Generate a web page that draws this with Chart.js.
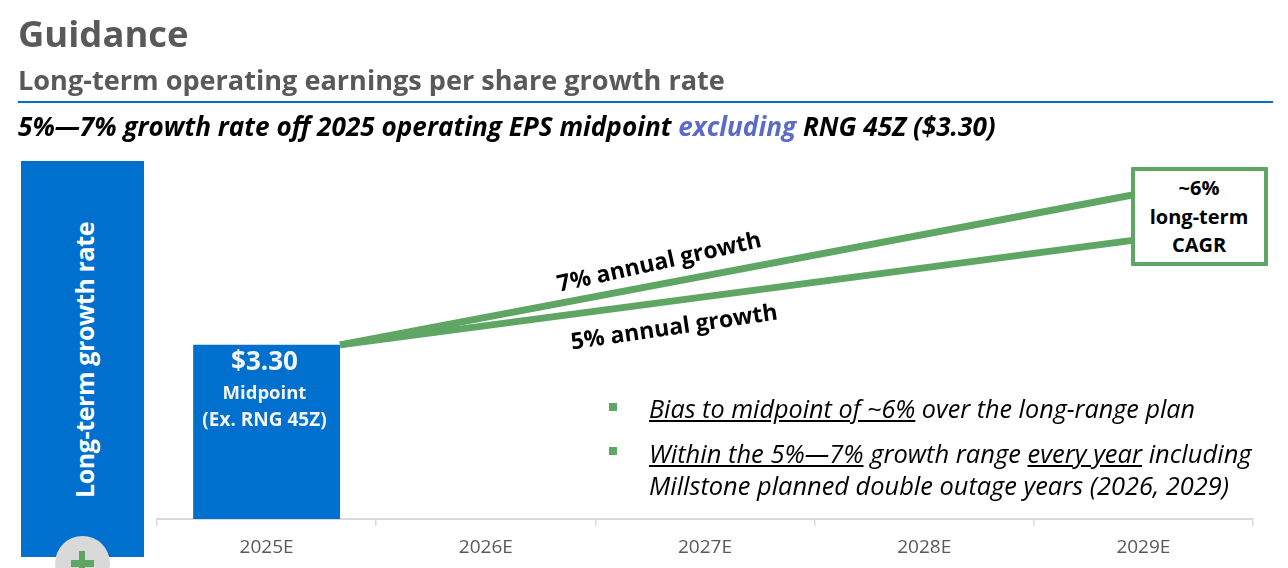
<!DOCTYPE html>
<html>
<head>
<meta charset="utf-8">
<title>Guidance</title>
<script src="https://cdn.jsdelivr.net/npm/chart.js@4"></script>
<style>
    html, body { margin: 0; padding: 0; background: #fff; }
    body { width: 1288px; height: 568px; overflow: hidden; position: relative; font-family: 'Open Sans', sans-serif; }
    canvas { position: absolute; left: 0; top: 0; }
    .txt { position: absolute; white-space: nowrap; line-height: 1; }
    #title { left: 18px; top: 15px; font-size: 36.4px; font-weight: 700; color: #595959; }
    #subtitle { left: 18px; top: 66px; font-size: 27.1px; font-weight: 700; color: #595959; }
    #rule { position: absolute; left: 18px; top: 101px; width: 1255px; height: 2px; background: #0070C0; }
    #headline { left: 18px; top: 113px; font-size: 26.15px; font-weight: 700; font-style: italic; color: #000; }
    #headline span { color: #5B6BC8; }
    #panel { position: absolute; left: 21px; top: 161px; width: 123px; height: 396px; background: #0070CE; }
    #panelText { left: 84px; top: 360px; transform: translate(-50%, -50%) rotate(-90deg); font-size: 25px; letter-spacing: -0.4px; font-weight: 700; color: #fff; }
    #circle { position: absolute; left: 55px; top: 536px; width: 55px; height: 55px; border-radius: 50%; background: #D9D9D9; }
    #plusH { position: absolute; left: 71px; top: 560px; width: 23px; height: 7px; background: #5FA564; }
    #plusV { position: absolute; left: 79px; top: 551px; width: 6px; height: 23px; background: #5FA564; }
    .barLabel { left: 264.5px; transform: translateX(-50%); color: #f4f4f4; font-weight: 700; }
    .rot { font-size: 23px; font-weight: 700; color: #000; }
    #box { position: absolute; left: 1131px; top: 167px; width: 129px; height: 91px; border: 4px solid #5FA564; background: #fff; border-radius: 1px; }
    .boxLine { left: 1199px; transform: translateX(-50%); font-size: 20px; font-weight: 700; color: #000; }
    .bullet { position: absolute; left: 609px; width: 8px; height: 8px; background: #5FA564; }
    .note { left: 649px; font-style: italic; color: #000; }
</style>
</head>
<body>
<canvas id="guidanceChart" width="1288" height="568"></canvas>

<div class="txt" id="title">Guidance</div>
<div class="txt" id="subtitle">Long-term operating earnings per share growth rate</div>
<div id="rule"></div>
<div class="txt" id="headline">5%—7% growth rate off 2025 operating EPS midpoint <span>excluding</span> RNG 45Z ($3.30)</div>

<div id="panel"></div>
<div class="txt" id="panelText">Long-term growth rate</div>
<div id="circle"></div>
<div id="plusH"></div>
<div id="plusV"></div>

<div class="txt barLabel" style="top:347px;font-size:26px;">$3.30</div>
<div class="txt barLabel" style="top:383px;font-size:18.5px;">Midpoint</div>
<div class="txt barLabel" style="top:410px;font-size:19px;">(Ex. RNG 45Z)</div>

<div class="txt rot" style="left:659px;top:261px;transform:translate(-50%,-50%) rotate(-12.5deg);">7% annual growth</div>
<div class="txt rot" style="left:674px;top:326px;transform:translate(-50%,-50%) rotate(-8.3deg);">5% annual growth</div>

<div id="box"></div>
<div class="txt boxLine" style="top:178px;">~6%</div>
<div class="txt boxLine" style="top:207px;">long-term</div>
<div class="txt boxLine" style="top:235px;">CAGR</div>

<div class="bullet" style="top:403px;"></div>
<div class="bullet" style="top:447px;"></div>
<div class="txt note" style="top:396px;font-size:25.2px;"><u>Bias to midpoint of ~6%</u> over the long-range plan</div>
<div class="txt note" style="top:441px;font-size:25.5px;"><u>Within the 5%—7%</u> growth range <u>every year</u> including</div>
<div class="txt note" style="top:473px;font-size:25.4px;">Millstone planned double outage years (2026, 2029)</div>

<script>
// Donnees
const categories = ['2025E', '2026E', '2027E', '2028E', '2029E'];
const barValues = [3.30, null, null, null, null];
const growthPositions = [0.335, 3.95];
const highGrowth = [3.30, 6.14];
const lowGrowth = [3.30, 5.28];

const BLUE = '#0070CE';
const GREEN = '#5FA564';

function toPoints(values) {
    return values.map((v, i) => ({ x: growthPositions[i], y: v }));
}

function growthLine(label, values) {
    return {
        type: 'line',
        label: label,
        data: toPoints(values),
        xAxisID: 'xLine',
        borderColor: GREEN,
        borderWidth: 7,
        pointRadius: 0,
        tension: 0,
        clip: false
    };
}

new Chart(document.getElementById('guidanceChart'), {
    data: {
        labels: categories,
        datasets: [
            growthLine('7% annual growth', highGrowth),
            growthLine('5% annual growth', lowGrowth),
            {
                type: 'bar',
                label: 'Midpoint',
                data: barValues,
                xAxisID: 'x',
                backgroundColor: BLUE,
                grouped: false,
                barPercentage: 0.67,
                categoryPercentage: 1
            }
        ]
    },
    options: {
        responsive: false,
        animation: false,
        layout: { padding: { left: 157, right: 35, top: 176, bottom: 0 } },
        plugins: { legend: { display: false }, tooltip: { enabled: false } },
        scales: {
            x: {
                type: 'category',
                border: { color: '#D9D9D9', width: 2 },
                grid: { drawOnChartArea: false, color: '#D9D9D9', tickLength: 7, lineWidth: 1.5 },
                ticks: { color: '#595959', padding: 10, font: { family: "'Open Sans', sans-serif", size: 19 } },
                afterFit: scale => { scale.height = 49; }
            },
            xLine: { type: 'linear', display: false, min: -0.5, max: 4.5 },
            y: { display: false, min: 0, max: 6.5 }
        }
    }
});
</script>
</body>
</html>
